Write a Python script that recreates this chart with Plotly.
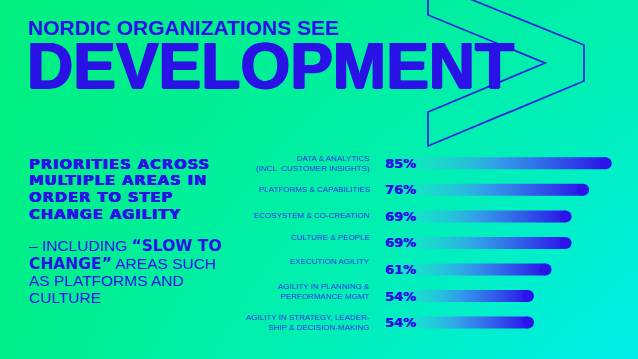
import plotly.graph_objects as go

# ---------------- data ----------------
categories = [
    "DATA & ANALYTICS<br>(INCL. CUSTOMER INSIGHTS)",
    "PLATFORMS & CAPABILITIES",
    "ECOSYSTEM & CO-CREATION",
    "CULTURE & PEOPLE",
    "EXECUTION AGILITY",
    "AGILITY IN PLANNING &<br>PERFORMANCE MGMT",
    "AGILITY IN STRATEGY, LEADER-<br>SHIP & DECISION-MAKING",
]
values = [85, 76, 69, 69, 61, 54, 54]
value_labels = [f"{v}%" for v in values]

title_small = "NORDIC ORGANIZATIONS SEE"
title_big = "DEVELOPMENT"
bold_lines = ["PRIORITIES ACROSS", "MULTIPLE AREAS IN", "ORDER TO STEP", "CHANGE AGILITY"]

# ---------------- style ----------------
W, H = 638, 359
BLUE = "#2a12e6"
LABEL_BLUE = "#3434e2"
BAR_END = "#2c14e8"
HEAVY = "DejaVu Sans"
SANS = "Liberation Sans, Arial, sans-serif"


def px(x):
    return x / W


def py(y):
    return 1 - y / H


fig = go.Figure()

# background gradient (first subplot, full page)
fig.add_trace(go.Heatmap(
    x=[0, 1], y=[0, 1], z=[[0.12, 1.0], [0.0, 0.45]],
    colorscale=[[0, "#00ef7e"], [0.5, "#00efb2"], [1, "#00eeea"]],
    zmin=0, zmax=1, zsmooth="best", showscale=False, hoverinfo="skip",
    xaxis="x", yaxis="y",
))

# bars (second subplot)
h = 0.226
grad = [[0, "rgba(60,215,225,0)"], [0.12, "rgba(60,200,232,0.3)"],
        [0.5, "rgba(60,140,240,0.85)"], [1, BAR_END]]
for i, v in enumerate(values):
    fig.add_trace(go.Scatter(
        x=[0, v, v, 0, 0], y=[i - h, i - h, i + h, i + h, i - h],
        mode="lines", fill="toself",
        fillgradient=dict(type="horizontal", colorscale=grad),
        line=dict(width=0, color="rgba(0,0,0,0)"),
        hoverinfo="skip", showlegend=False, xaxis="x2", yaxis="y2",
    ))
fig.add_trace(go.Scatter(
    x=values, y=list(range(len(values))), mode="markers",
    marker=dict(size=12, color=BAR_END, line=dict(width=0)),
    hoverinfo="skip", showlegend=False, xaxis="x2", yaxis="y2",
))

ann = []
# percentage labels
for i, t in enumerate(value_labels):
    ann.append(dict(x=px(383), xref="paper", y=i, yref="y2", text=t,
                    xanchor="left", yanchor="middle", showarrow=False,
                    font=dict(family=HEAVY, size=13, color=BLUE, weight="bold",
                              shadow=f"0.4px 0 0 {BLUE}")))
# category labels
label_shift = [0, 0, 1, 5, 8, 5, 0]
for i, c in enumerate(categories):
    ann.append(dict(x=px(372), xref="paper", y=i, yref="y2", text=c,
                    xanchor="right", yanchor="middle", align="right", showarrow=False,
                    yshift=label_shift[i],
                    font=dict(family=SANS, size=8, color=LABEL_BLUE)))

# titles
ann.append(dict(x=px(26), y=py(27.5), xref="paper", yref="paper", text=title_small,
                xanchor="left", yanchor="middle", showarrow=False,
                font=dict(family=SANS, size=21, color=BLUE, weight="bold")))
ann.append(dict(x=px(25), y=py(65.5), xref="paper", yref="paper", text=title_big,
                xanchor="left", yanchor="middle", showarrow=False,
                font=dict(family=SANS, size=64, color=BLUE, weight="bold",
                          shadow=f"1px 0 0 {BLUE}, -1px 0 0 {BLUE}, 0 1px 0 {BLUE}")))

# left text block
bold_y = [163.4, 179.6, 196.4, 213]
for t, yy in zip(bold_lines, bold_y):
    ann.append(dict(x=px(27), y=py(yy), xref="paper", yref="paper",
                    text=f"<span style='letter-spacing:0.9px'>{t}</span>",
                    xanchor="left", yanchor="middle", showarrow=False,
                    font=dict(family=HEAVY, size=14.8, color=BLUE, weight="bold",
                              shadow=f"0.6px 0 0 {BLUE}, -0.3px 0 0 {BLUE}")))

hv = f"font-family:{HEAVY};font-weight:bold"
plain_lines = [
    f"– INCLUDING <span style='{hv}'>“SLOW TO</span>",
    f"<span style='{hv}'>CHANGE”</span> AREAS SUCH",
    "AS PLATFORMS AND",
    "CULTURE",
]
plain_y = [246.2, 263.8, 280.5, 297.2]
for t, yy in zip(plain_lines, plain_y):
    ann.append(dict(x=px(27), y=py(yy), xref="paper", yref="paper", text=t,
                    xanchor="left", yanchor="middle", showarrow=False,
                    font=dict(family=SANS, size=15.5, color=BLUE)))

# chevron outline
pts = [(428, -3), (428, 15), (545, 63), (428, 112), (428, 146),
       (584, 81), (584, 45), (465, -3)]
path = "M " + " L ".join(f"{px(x):.5f},{py(y):.5f}" for x, y in pts) + " Z"
shapes = [dict(type="path", path=path, xref="paper", yref="paper",
               line=dict(color="#2626d8", width=1.8), fillcolor="rgba(0,0,0,0)",
               layer="above")]

x0 = 392.7
fig.update_layout(
    width=W, height=H, autosize=False,
    margin=dict(l=0, r=0, t=0, b=0, pad=0),
    paper_bgcolor="#00ef9a", plot_bgcolor="rgba(0,0,0,0)",
    showlegend=False,
    xaxis=dict(domain=[0, 1], range=[0, 1], visible=False, fixedrange=True),
    yaxis=dict(domain=[0, 1], range=[0, 1], visible=False, fixedrange=True),
    xaxis2=dict(domain=[px(x0), 1], range=[0, (W - x0) / 2.506], visible=False,
                fixedrange=True, anchor="y2"),
    yaxis2=dict(domain=[py(163.3 + 6.5 * 26.55), py(163.3 - 0.5 * 26.55)],
                range=[6.5, -0.5], visible=False, fixedrange=True, anchor="x2"),
    annotations=ann,
    shapes=shapes,
)

fig.write_html(
    "out.html",
    config={"displayModeBar": False, "staticPlot": True},
    post_script="document.body.style.margin='0';document.body.style.overflow='hidden';",
)
